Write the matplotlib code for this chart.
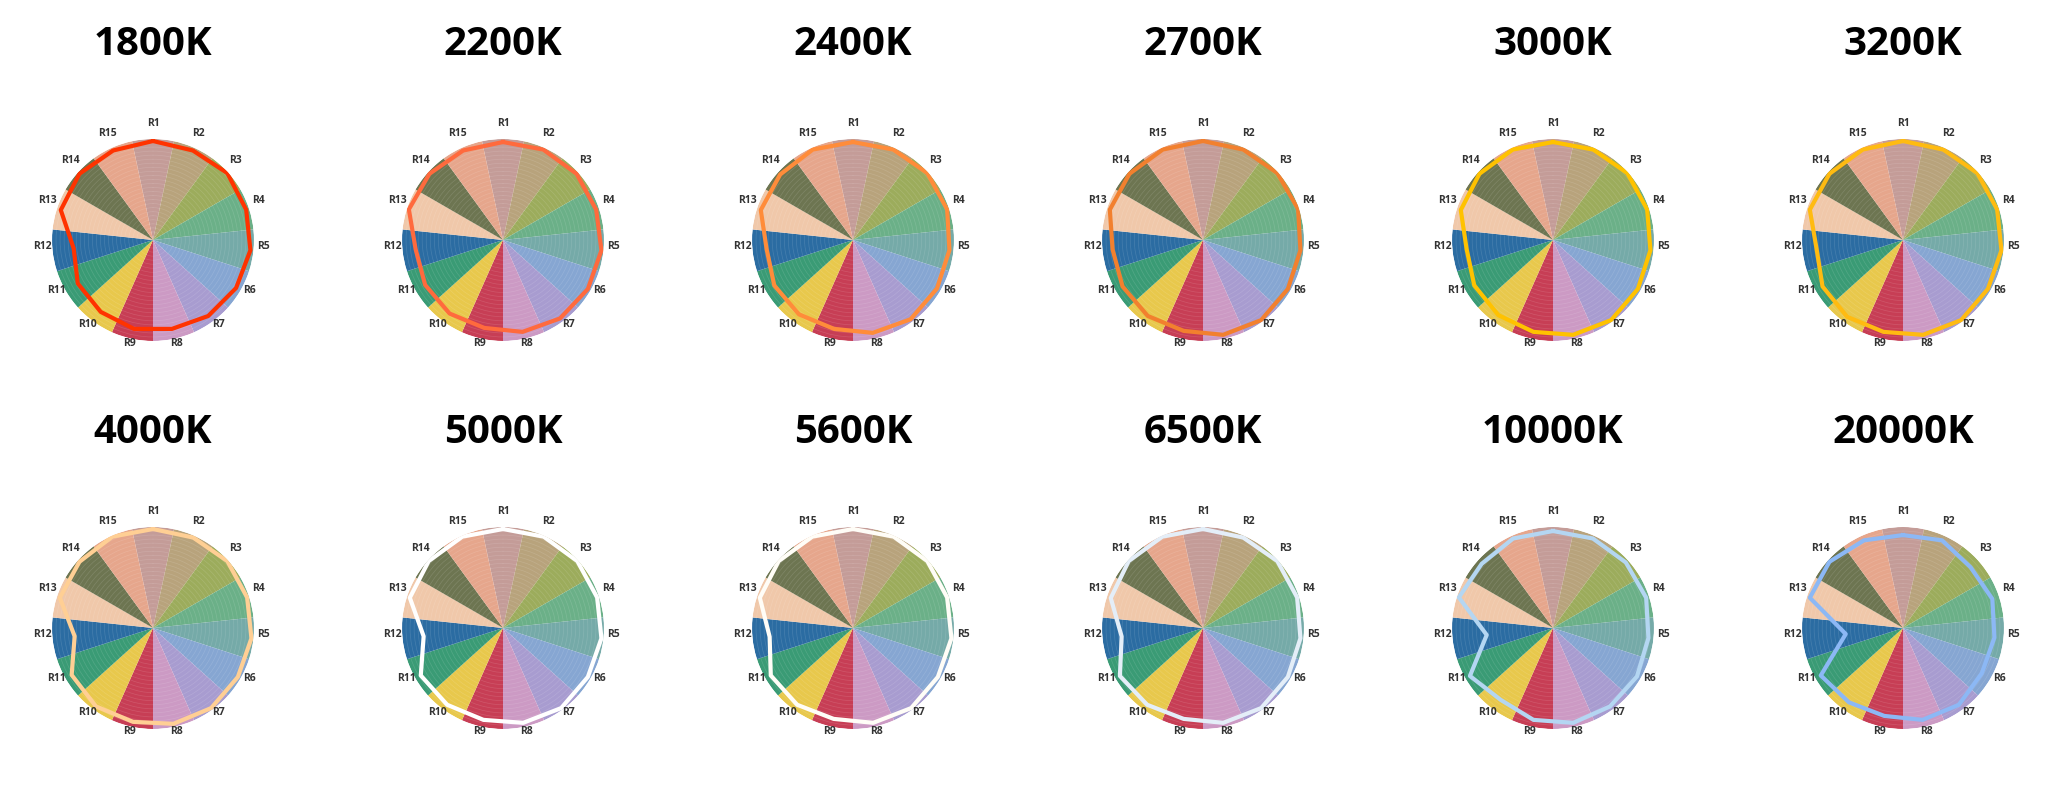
import numpy as np
import matplotlib
matplotlib.use("Agg")
import matplotlib.pyplot as plt
from matplotlib.transforms import offset_copy

# ---------------- data ----------------
titles = ["1800K", "2200K", "2400K", "2700K", "3000K", "3200K",
          "4000K", "5000K", "5600K", "6500K", "10000K", "20000K"]
labels = ["R%d" % i for i in range(1, 16)]

v1800 = [98, 97, 99, 97, 97, 95, 93, 90, 90, 88, 86, 79, 96, 98, 97]
v2200 = [97, 98, 98, 97, 98, 97, 96, 93, 89, 90, 89, 87, 98, 98, 97]
v2400 = [97, 98, 99, 98, 96, 96, 97, 94, 90, 91, 90, 86, 96, 97, 98]
v2700 = [98, 98, 99, 99, 97, 97, 98, 96, 92, 93, 92, 90, 97, 98, 98]
v3000 = [97, 98, 99, 98, 97, 97, 98, 96, 93, 92, 90, 86, 96, 98, 98]
v3200 = [98, 98, 99, 98, 98, 97, 98, 96, 93, 94, 92, 86, 97, 98, 98]
v4000 = [98, 98, 99, 98, 98, 97, 98, 97, 95, 96, 93, 78, 97, 98, 99]
v5000 = [98, 99, 99, 98, 98, 97, 98, 96, 93, 94, 94, 79, 97, 99, 99]
v5600 = [98, 99, 99, 98, 98, 97, 98, 96, 92, 94, 94, 83, 97, 99, 99]
v6500 = [98, 98, 99, 98, 97, 97, 98, 96, 92, 94, 95, 81, 96, 99, 99]
v10000 = [96, 97, 97, 97, 95, 96, 96, 96, 93, 88, 95, 66, 98, 95, 97]
v20000 = [92, 95, 90, 93, 91, 90, 94, 93, 89, 91, 94, 57, 97, 98, 95]
series = [v1800, v2200, v2400, v2700, v3000, v3200,
          v4000, v5000, v5600, v6500, v10000, v20000]

line_colors = ["#ff3300", "#ff6a3d", "#ff8c3a", "#f2802e", "#ffc200", "#ffbb11",
               "#ffcf94", "#ffffff", "#fffdf7", "#e4eef8", "#b4d6f2", "#8cb8f5"]

wedge_colors = ["#c49c98", "#b8a37c", "#9cac5c", "#6bb088", "#75aaa8",
                "#86a6d2", "#a89cd0", "#cc9ac4", "#c73e55", "#e8c84c",
                "#3a9b75", "#2b6ca2", "#f0c8aa", "#6d7551", "#e6a68c"]

# ---------------- layout ----------------
W, H = 2048, 785
fig = plt.figure(figsize=(W / 100, H / 100), dpi=100)
fig.patch.set_facecolor("white")

col_cx = [153, 503, 853, 1203, 1553, 1903]
row_cy = [240, 628]
row_title_base = [55, 443]
R = 101

n = len(labels)
theta = np.arange(n) * 2 * np.pi / n
width = 2 * np.pi / n

for k, (title, vals, lc) in enumerate(zip(titles, series, line_colors)):
    r, c = divmod(k, 6)
    cx, cy = col_cx[c], row_cy[r]
    ax = fig.add_axes([(cx - R) / W, 1 - (cy + R) / H, 2 * R / W, 2 * R / H],
                      projection="polar")
    ax.set_theta_zero_location("N")
    ax.set_theta_direction(-1)
    ax.bar(theta, [100] * n, width=width, color=wedge_colors,
           edgecolor="none", zorder=1)
    ax.set_ylim(0, 100)
    ax.set_yticks(np.arange(4, 100, 4))
    ax.set_yticklabels([])
    ax.yaxis.grid(True, color="white", alpha=0.13, lw=0.5)
    ax.set_xticks([])
    ax.xaxis.grid(False)
    ax.spines["polar"].set_visible(False)
    ax.set_facecolor("none")
    tt = np.append(theta, theta[0])
    vv = np.append(vals, vals[0])
    ax.plot(tt, vv, color=lc, lw=3, zorder=3, solid_joinstyle="round")
    trans = offset_copy(ax.transData, fig=fig, x=0, y=3.8, units="points")
    for t, lab in zip(theta, labels):
        ax.text(t, 110, lab, ha="center", va="center", fontsize=7.5,
                fontweight="bold", color="#333333", family="Open Sans",
                clip_on=False, transform=trans, zorder=5)
    fig.text(cx / W, 1 - row_title_base[r] / H, title, ha="center",
             va="baseline", fontsize=29, fontweight="bold",
             family="Open Sans", color="black")

fig.savefig("out.png", dpi=100, facecolor="white")
